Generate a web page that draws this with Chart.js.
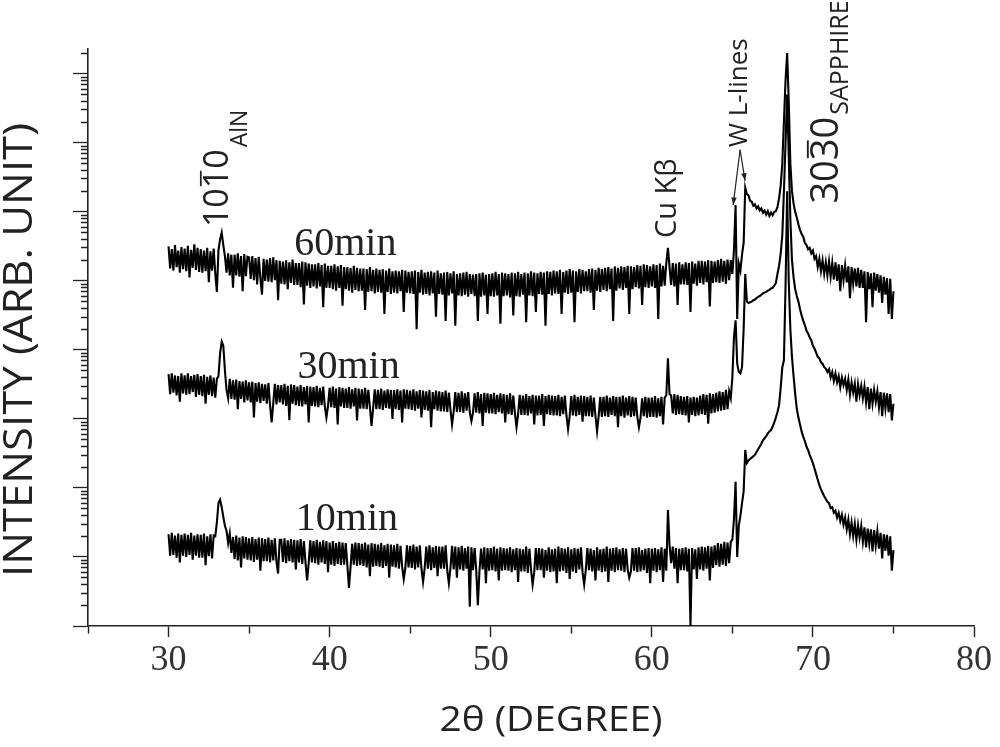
<!DOCTYPE html>
<html lang="en">
<head>
<meta charset="UTF-8">
<title>XRD AlN on sapphire</title>
<script src="https://cdn.jsdelivr.net/npm/chart.js"></script>
<style>
  body { margin: 0; background: #fff; }
  #wrap { width: 1000px; height: 747px; position: relative; }
</style>
</head>
<body>
<div id="wrap"><canvas id="xrdChart"></canvas></div>
<script>
// scan: 2theta 30..75 deg, 0.1 deg step
const scanStart = 30;
const scanStep = 0.1;

// log10 intensity (decades, traces offset), one row = 1 degree
const int60 = [
  5.50,5.18,5.46,5.15,5.52,5.20,5.44,5.12,5.49,5.17, // 30
  5.47,5.14,5.51,5.05,5.45,5.19,5.53,5.16,5.48,5.13,
  5.46,5.12,5.44,5.14,5.48,4.98,5.43,5.15,5.47,5.11,
  4.84,5.45,5.60,5.70,5.52,5.36,5.12,5.40,5.08,5.38,
  4.90,5.38,5.08,5.40,5.06,5.36,4.85,5.39,5.07,5.35,
  5.34,5.03,5.36,5.01,5.33,4.95,5.35,5.04,4.80,5.32, // 35
  5.00,5.31,4.99,5.33,4.98,5.34,5.01,5.30,4.72,5.29,
  4.96,5.28,4.95,5.30,4.88,5.27,4.97,5.31,4.94,5.26,
  4.94,5.26,4.91,5.28,4.66,5.27,4.93,5.25,4.90,5.24,
  4.92,5.24,4.89,5.26,4.92,5.23,4.62,5.25,4.90,5.22,
  4.90,5.22,4.88,5.24,4.86,5.21,4.90,5.23,4.64,5.20, // 40
  4.88,5.20,4.86,5.19,4.83,5.22,4.87,5.19,4.85,5.18,
  4.86,5.18,4.58,5.17,4.84,5.20,4.85,5.16,4.82,5.18,
  4.84,5.16,4.83,5.17,4.52,5.15,4.84,5.18,4.81,5.14,
  4.83,5.15,4.82,5.14,4.85,5.16,4.55,5.15,4.83,5.13,
  4.82,5.14,4.81,5.15,4.30,5.13,4.83,5.16,4.80,5.12, // 45
  4.81,5.13,4.79,5.14,4.82,5.12,4.48,5.15,4.81,5.11,
  4.80,5.12,4.42,5.13,4.79,5.11,4.82,5.14,4.35,5.10,
  4.79,5.11,4.78,5.12,4.80,5.13,4.77,5.10,4.81,5.09,
  4.78,5.10,4.42,5.11,4.77,5.12,4.79,5.09,4.52,5.10,
  4.78,5.11,4.77,5.13,4.79,5.10,4.38,5.12,4.78,5.11, // 50
  4.79,5.10,4.76,5.12,4.50,5.11,4.78,5.13,4.77,5.10,
  4.80,5.12,4.40,5.11,4.79,5.14,4.78,5.12,4.55,5.11,
  4.81,5.13,4.80,5.12,4.35,5.14,4.81,5.13,4.79,5.15,
  4.82,5.14,4.81,5.16,4.52,5.13,4.83,5.15,4.81,5.17,
  4.83,5.15,4.40,5.14,4.84,5.17,4.82,5.16,4.85,5.14, // 55
  4.85,5.17,4.83,5.18,4.58,5.16,4.86,5.19,4.84,5.17,
  4.87,5.19,4.85,5.20,4.88,5.18,4.42,5.21,4.86,5.19,
  4.89,5.21,4.87,5.20,4.90,5.22,4.52,5.21,4.88,5.20,
  4.91,5.23,4.89,5.22,4.65,5.24,4.91,5.23,4.90,5.21,
  4.92,5.24,4.90,5.23,4.45,5.25,4.92,5.22,4.93,5.26, // 60
  5.48,5.20,4.94,5.26,4.92,5.25,4.65,5.27,4.95,5.24,
  4.95,5.27,4.94,5.26,4.55,5.28,4.96,5.25,4.93,5.29,
  4.97,5.29,4.95,5.28,4.98,5.30,4.63,5.29,4.97,5.28,
  4.98,5.30,4.97,5.32,4.99,5.29,4.96,5.31,5.01,5.30,
  5.10,5.45,6.10,4.45,5.25,5.15,5.38,5.55,6.35,6.26, // 65
  6.24,6.16,6.15,6.09,6.11,6.05,6.08,6.02,6.05,5.99,
  6.02,5.96,6.01,5.94,5.99,5.95,6.00,6.01,6.07,6.20,
  6.38,6.70,7.30,7.90,8.30,7.60,6.70,6.30,6.12,6.00,
  5.92,5.82,5.74,5.68,5.64,5.55,5.52,5.46,5.48,5.40,
  5.44,5.32,5.36,5.20,5.32,5.14,5.30,5.10,5.27,5.08, // 70
  5.28,5.06,5.26,5.02,5.27,5.00,5.24,4.85,5.23,5.01,
  5.22,4.98,5.21,4.75,5.20,4.96,5.18,4.92,5.19,4.90,
  5.16,4.90,5.14,4.40,5.13,4.88,5.11,4.62,5.12,4.86,
  5.10,4.83,5.08,4.68,5.06,4.80,5.04,4.52,5.03,4.45,
  4.85 // 75
];

const int30 = [
  3.65,3.36,3.66,3.38,3.63,3.34,3.62,3.25,3.66,3.37, // 30
  3.63,3.35,3.66,3.36,3.62,3.39,3.64,3.32,3.65,3.35,
  3.62,3.33,3.64,3.22,3.61,3.35,3.63,3.33,3.60,3.31,
  3.58,3.62,3.95,4.12,4.06,3.70,3.42,3.30,3.58,3.29,
  3.56,3.28,3.57,3.14,3.55,3.29,3.54,3.24,3.56,3.27,
  3.53,3.24,3.54,3.02,3.52,3.25,3.53,3.23,3.51,3.26, // 35
  3.50,3.22,3.52,3.20,2.95,3.23,3.51,3.21,3.49,3.24,
  3.49,3.21,3.51,3.19,3.48,2.98,3.50,3.22,3.49,3.20,
  3.47,3.19,3.49,3.18,3.46,3.21,3.48,2.95,3.47,3.19,
  3.46,3.18,3.48,3.17,3.45,3.20,3.47,3.18,3.02,3.19,
  3.45,3.17,3.47,3.16,3.44,2.92,3.46,3.18,3.45,3.16, // 40
  3.44,3.16,3.46,3.15,3.43,3.18,3.45,2.98,3.44,3.15,
  3.43,3.15,3.45,3.14,3.42,3.17,2.90,3.16,3.43,3.14,
  3.42,3.14,3.44,3.13,3.41,3.16,3.43,3.15,3.42,3.00,
  3.42,3.14,3.43,3.13,3.41,2.95,3.43,3.15,3.42,3.14,
  3.41,3.13,3.43,3.12,3.40,3.15,3.42,3.02,3.41,3.13, // 45
  3.40,3.12,3.42,2.88,3.39,3.14,3.41,3.12,3.40,3.11,
  3.39,3.11,3.41,3.10,3.38,3.13,2.92,3.11,3.39,3.10,
  3.38,3.10,3.40,3.09,3.37,3.12,3.39,3.10,2.97,3.09,
  3.37,3.09,3.39,3.08,3.36,2.90,3.38,3.09,3.37,3.08,
  3.36,3.08,3.38,3.07,3.35,3.10,3.37,3.08,3.36,2.95, // 50
  3.35,3.07,3.37,3.06,3.34,3.09,2.88,3.07,3.35,3.06,
  3.34,3.06,3.36,3.05,3.33,3.08,3.35,2.92,3.34,3.05,
  3.34,3.06,3.36,2.90,3.33,3.07,3.35,3.06,3.34,3.05,
  3.33,3.05,3.35,3.04,3.32,3.07,3.34,3.05,2.85,3.04,
  3.33,3.05,3.35,3.04,3.32,3.06,3.34,2.96,3.33,3.04, // 55
  3.32,3.04,3.34,3.03,3.31,3.05,2.82,3.04,3.32,3.03,
  3.32,3.04,3.34,3.03,3.31,3.06,3.33,3.04,3.32,2.88,
  3.32,3.04,3.34,3.02,3.31,3.05,3.33,3.03,3.32,3.04,
  3.31,3.03,2.88,3.02,3.30,3.04,3.32,3.02,3.31,3.03,
  3.31,3.03,3.33,3.02,3.30,3.04,3.32,2.92,3.31,3.34, // 60
  3.88,3.36,3.34,3.08,3.36,3.06,3.35,3.07,3.33,3.06,
  3.32,3.05,3.33,2.95,3.31,3.06,3.32,3.04,3.31,3.05,
  3.34,3.07,3.36,3.06,3.35,2.93,3.37,3.08,3.36,3.09,
  3.38,3.11,3.40,3.12,3.39,3.13,3.42,3.14,3.40,3.30,
  3.60,4.19,4.43,3.80,3.68,3.66,3.75,4.30,5.10,4.70, // 65
  4.68,4.69,4.70,4.72,4.73,4.75,4.77,4.78,4.80,4.82,
  4.83,4.84,4.86,4.87,4.89,4.90,4.93,4.97,5.10,5.22,
  5.40,5.66,6.30,7.00,7.70,6.80,5.90,5.30,5.05,4.88,
  4.78,4.70,4.59,4.50,4.42,4.36,4.28,4.24,4.18,4.14,
  4.06,4.02,3.96,3.90,3.88,3.82,3.80,3.75,3.73,3.68, // 70
  3.72,3.60,3.68,3.55,3.66,3.53,3.62,3.46,3.60,3.49,
  3.58,3.42,3.57,3.35,3.53,3.38,3.51,3.25,3.50,3.34,
  3.48,3.30,3.47,3.24,3.46,3.14,3.44,3.22,3.42,3.25,
  3.40,3.17,3.39,3.04,3.38,3.15,3.37,3.10,3.36,2.98,
  3.22 // 75
];

const int10 = [
  1.33,1.02,1.35,1.03,1.31,0.99,1.34,0.92,1.32,1.02, // 30
  1.34,1.00,1.32,1.03,1.35,0.96,1.31,1.02,1.33,0.99,
  1.32,0.99,1.34,0.88,1.30,1.01,1.33,0.98,1.31,1.30,
  1.50,1.78,1.83,1.72,1.58,1.45,1.38,1.20,1.34,1.06,
  1.29,0.97,1.31,0.95,1.28,0.85,1.30,0.98,1.29,0.96,
  1.27,0.95,1.29,0.93,1.26,0.96,1.28,0.80,1.27,0.94, // 35
  1.26,0.94,1.28,0.92,1.25,0.95,1.27,0.93,0.76,1.25,
  1.25,0.93,1.27,0.91,1.24,0.94,1.26,0.92,1.25,0.82,
  1.24,0.92,1.26,0.90,1.23,0.93,0.66,0.91,1.24,0.92,
  1.23,0.91,1.25,0.89,1.22,0.92,1.24,0.90,1.23,0.78,
  1.21,0.89,1.23,0.87,1.20,0.90,1.22,0.88,1.21,0.89, // 40
  1.20,0.88,0.55,0.86,1.19,0.89,1.21,0.87,1.20,0.88,
  1.19,0.87,1.21,0.85,1.18,0.72,1.20,0.86,1.19,0.87,
  1.18,0.86,1.20,0.84,1.17,0.87,1.19,0.70,1.18,0.86,
  1.17,0.85,1.19,0.83,1.16,0.86,0.68,0.84,1.17,0.85,
  1.16,0.84,1.18,0.82,1.15,0.85,1.17,0.83,0.64,0.84, // 45
  1.15,0.83,1.17,0.81,1.14,0.84,1.16,0.72,1.15,0.83,
  1.15,0.83,1.17,0.81,0.62,0.84,1.16,0.82,1.15,0.70,
  1.14,0.82,1.16,0.80,1.13,0.83,1.15,0.28,1.14,0.81,
  1.13,0.81,0.30,0.79,1.12,0.82,1.14,0.62,1.13,0.80,
  1.13,0.81,1.15,0.79,1.12,0.66,1.14,0.80,1.13,0.81, // 50
  1.12,0.80,1.14,0.78,1.11,0.81,1.13,0.64,1.12,0.79,
  1.11,0.79,1.15,0.77,1.12,0.82,0.60,0.78,1.13,0.81,
  1.13,0.81,1.12,0.70,1.10,0.80,1.14,0.78,1.11,0.79,
  1.12,0.62,1.15,0.79,1.13,0.80,1.12,0.77,1.14,0.68,
  1.11,0.79,1.13,0.77,1.12,0.82,1.14,0.78,0.60,0.81, // 55
  1.13,0.81,1.12,0.79,1.10,0.66,1.14,0.80,1.11,0.78,
  1.12,0.79,1.15,0.64,1.12,0.80,1.13,0.78,1.14,0.81,
  1.11,0.80,1.13,0.78,1.12,0.82,0.70,0.79,1.13,0.80,
  1.13,0.78,1.14,0.79,1.10,0.81,1.12,0.77,1.13,0.62,
  1.12,0.80,1.13,0.78,1.11,0.81,1.14,0.64,1.12,0.80, // 60
  1.68,1.17,0.91,1.15,0.83,1.13,0.62,1.12,0.81,1.13,
  0.81,1.14,0.79,1.12,0.00,1.13,0.82,1.11,0.68,1.14,
  0.82,1.15,0.80,1.14,0.83,1.16,0.66,1.15,0.84,1.17,
  0.88,1.20,0.86,1.19,0.89,1.22,0.87,1.21,0.91,1.22,
  1.25,1.55,2.09,1.00,1.45,1.60,1.78,1.95,2.55,2.36, // 65
  2.40,2.42,2.44,2.46,2.48,2.52,2.56,2.60,2.64,2.69,
  2.72,2.75,2.79,2.82,2.84,2.89,2.95,3.02,3.10,3.20,
  3.45,3.75,3.85,4.90,6.30,5.00,4.30,3.90,3.62,3.36,
  3.15,3.02,2.92,2.82,2.74,2.68,2.60,2.55,2.48,2.42,
  2.36,2.28,2.20,2.12,2.04,1.98,1.93,1.88,1.84,1.80, // 70
  1.78,1.71,1.72,1.64,1.67,1.57,1.64,1.52,1.61,1.47,
  1.57,1.40,1.54,1.33,1.50,1.30,1.48,1.25,1.46,1.28,
  1.45,1.22,1.43,1.14,1.41,1.19,1.40,1.08,1.39,1.16,
  1.37,1.12,1.35,0.98,1.33,1.09,1.32,1.02,1.30,0.80,
  1.10 // 75
];

// axes
const xTicks = [25, 30, 35, 40, 45, 50, 55, 60, 65, 70, 75, 80];
const xLabelled = [30, 40, 50, 60, 70, 80];
const yDecades = [0, 1, 2, 3, 4, 5, 6, 7, 8];
const yMinorSteps = [0.301, 0.477, 0.602, 0.699, 0.778, 0.845, 0.903, 0.954]; // log10(2..9)
const yTop = 8.36;

// text on the plot (data coordinates)
const curveNames = [
  { text: '60min', x: 37.8, y: 5.38 },
  { text: '30min', x: 38.0, y: 3.59 },
  { text: '10min', x: 37.9, y: 1.39 }
];
const peakNames = [
  { main: '1010', bar: 2, sub: 'AlN', x: 33.68, y: 5.78, size: 34, subSize: 23, subShift: 19 },
  { main: 'Cu K\u03b2', x: 61.52, y: 5.62, size: 29 },
  { main: 'W L-lines', x: 65.92, y: 6.94, size: 26 },
  { main: '3030', bar: 2, sub: 'SAPPHIRE', x: 71.56, y: 6.12, size: 38, subSize: 25, subShift: 10 }
];
const wArrows = [
  { from: [65.48, 6.90], to: [65.05, 6.10] },
  { from: [65.48, 6.90], to: [65.79, 6.45] }
];

const yTickValues = [];
yDecades.forEach(d => {
  yTickValues.push(d);
  yMinorSteps.forEach(m => { if (d + m <= yTop) yTickValues.push(+(d + m).toFixed(3)); });
});

function toPoints(arr) {
  return arr.map((v, i) => ({ x: +(scanStart + i * scanStep).toFixed(1), y: v }));
}

function peakLabel(ctx, px, py, o) {
  ctx.save();
  ctx.translate(px, py);
  ctx.rotate(-Math.PI / 2);
  ctx.font = o.size + 'px "Open Sans"';
  ctx.textAlign = 'left';
  ctx.textBaseline = 'alphabetic';
  ctx.fillText(o.main, 0, 0);
  const w = ctx.measureText(o.main).width;
  if (o.bar != null) {
    const a = ctx.measureText(o.main.slice(0, o.bar)).width;
    const b = ctx.measureText(o.main.slice(0, o.bar + 1)).width;
    ctx.fillRect(a + 2, -o.size * 0.82, b - a - 4, Math.max(1.5, o.size * 0.05));
  }
  if (o.sub) {
    ctx.font = o.subSize + 'px "Open Sans"';
    ctx.fillText(o.sub, w + 2, o.subShift);
  }
  ctx.restore();
}

function fitText(ctx, txt, cx, cy, font, len, rotate) {
  ctx.save();
  ctx.translate(cx, cy);
  if (rotate) ctx.rotate(-Math.PI / 2);
  ctx.font = font;
  const w = ctx.measureText(txt).width;
  ctx.scale(len / w, 1);
  ctx.textAlign = 'center';
  ctx.textBaseline = 'middle';
  ctx.fillText(txt, 0, 0);
  ctx.restore();
}

const annotate = {
  id: 'annotate',
  afterDraw(chart) {
    const { ctx } = chart;
    const sx = chart.scales.x, sy = chart.scales.y;
    ctx.save();
    ctx.fillStyle = '#222';
    ctx.strokeStyle = '#222';

    ctx.font = '40px "Liberation Serif"';
    ctx.textAlign = 'left';
    ctx.textBaseline = 'alphabetic';
    curveNames.forEach(c => ctx.fillText(c.text, sx.getPixelForValue(c.x), sy.getPixelForValue(c.y)));

    peakNames.forEach(p => peakLabel(ctx, sx.getPixelForValue(p.x), sy.getPixelForValue(p.y), p));

    ctx.lineWidth = 1.2;
    wArrows.forEach(a => {
      const x0 = sx.getPixelForValue(a.from[0]), y0 = sy.getPixelForValue(a.from[1]);
      const x1 = sx.getPixelForValue(a.to[0]), y1 = sy.getPixelForValue(a.to[1]);
      const ang = Math.atan2(y1 - y0, x1 - x0);
      ctx.beginPath();
      ctx.moveTo(x0, y0);
      ctx.lineTo(x1, y1);
      ctx.stroke();
      ctx.beginPath();
      ctx.moveTo(x1, y1);
      ctx.lineTo(x1 - 8 * Math.cos(ang - 0.35), y1 - 8 * Math.sin(ang - 0.35));
      ctx.lineTo(x1 - 8 * Math.cos(ang + 0.35), y1 - 8 * Math.sin(ang + 0.35));
      ctx.closePath();
      ctx.fill();
    });

    // axis titles
    fitText(ctx, 'INTENSITY (ARB. UNIT)', 21, 350, '40px "Open Sans"', 454, true);
    fitText(ctx, '2\u03b8 (DEGREE)', 551, 721, '35px "Open Sans"', 223, false);
    ctx.restore();
  }
};

new Chart(document.getElementById('xrdChart'), {
  type: 'line',
  data: {
    datasets: [
      { label: '60min', data: toPoints(int60) },
      { label: '30min', data: toPoints(int30) },
      { label: '10min', data: toPoints(int10) }
    ]
  },
  options: {
    responsive: true,
    maintainAspectRatio: false,
    animation: false,
    layout: { padding: { top: 49, right: 26, bottom: 0, left: 0 } },
    plugins: { legend: { display: false }, tooltip: { enabled: false } },
    elements: {
      point: { radius: 0 },
      line: { borderWidth: 2.1, borderColor: '#000', tension: 0 }
    },
    scales: {
      x: {
        type: 'linear', min: 25, max: 80,
        afterBuildTicks: s => { s.ticks = xTicks.map(v => ({ value: v })); },
        afterFit: s => { s.height = 121; },
        grid: {
          drawOnChartArea: false, color: '#222', tickLength: 11, tickWidth: 1.4,
          tickBorderDash: c => (c.tick && !xLabelled.includes(c.tick.value)) ? [7, 30] : []
        },
        border: { color: '#222', width: 1.6 },
        ticks: {
          autoSkip: false, maxRotation: 0, padding: 2, color: '#333',
          font: { family: '"Liberation Serif"', size: 36 },
          callback: v => xLabelled.includes(v) ? String(v) : ''
        }
      },
      y: {
        type: 'linear', min: 0, max: yTop,
        afterBuildTicks: s => { s.ticks = yTickValues.map(v => ({ value: v })); },
        afterFit: s => { s.width = 88; },
        grid: {
          drawOnChartArea: false, color: '#222', tickLength: 15, tickWidth: 1.3,
          tickBorderDash: c => (c.tick && !yDecades.includes(c.tick.value)) ? [0, 8, 7, 30] : []
        },
        border: { color: '#222', width: 1.6 },
        ticks: { display: false }
      }
    }
  },
  plugins: [annotate]
});
</script>
</body>
</html>
